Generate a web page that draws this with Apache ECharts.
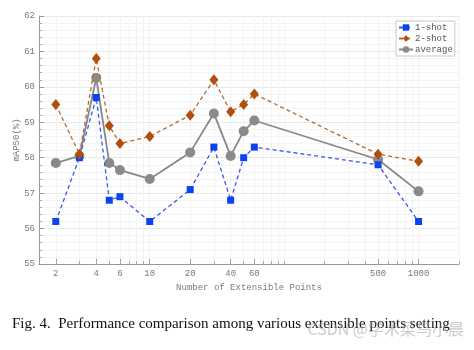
<!DOCTYPE html>
<html>
<head>
<meta charset="utf-8">
<script src="https://cdn.jsdelivr.net/npm/echarts@6/dist/echarts.min.js"></script>
<style>
  html, body { margin: 0; padding: 0; background: #fff; }
  #chart { width: 474px; height: 350px; }
</style>
</head>
<body>
<div id="chart"></div>
<script>
// number of extensible points (x, log axis)
var points = [2, 3, 4, 5, 6, 10, 20, 30, 40, 50, 60, 500, 1000];
var oneShot = [56.2, 58.0, 59.7, 56.8, 56.9, 56.2, 57.1, 58.3, 56.8, 58.0, 58.3, 57.8, 56.2];
var twoShot = [59.5, 58.1, 60.8, 58.9, 58.4, 58.6, 59.2, 60.2, 59.3, 59.5, 59.8, 58.1, 57.9];
var average = [57.85, 58.05, 60.25, 57.85, 57.65, 57.4, 58.15, 59.25, 58.05, 58.75, 59.05, 57.95, 57.05];
var xLabels = [2, 4, 6, 10, 20, 40, 60, 500, 1000];
var xMinor = [2, 3, 4, 5, 6, 7, 8, 9, 10, 20, 30, 40, 50, 60, 70, 80, 90,
              100, 200, 300, 400, 500, 600, 700, 800, 900, 1000, 2000];

function pairs(vals) {
  return points.map(function (p, i) { return [p, vals[i]]; });
}

var mono = 'Liberation Mono';
var grey = '#7a7a7a';

var chart = echarts.init(document.getElementById('chart'));
chart.setOption({
  backgroundColor: '#fff',
  animation: false,
  grid: { left: 39, right: 15, top: 16, bottom: 86, outerBoundsMode: 'none' },
  legend: {
    left: 396, top: 21,
    orient: 'vertical',
    itemWidth: 14, itemHeight: 8, itemGap: 2,
    padding: [2, 2, 2, 2],
    borderColor: '#c8c8c8', borderWidth: 1,
    backgroundColor: '#fff',
    textStyle: { fontFamily: mono, fontSize: 9, color: '#555', padding: [0, 0, 0, -3] },
    data: ['1-shot', '2-shot', 'average']
  },
  xAxis: [{
    type: 'log', logBase: 10, min: 1.5, max: 2000,
    name: 'Number of Extensible Points',
    nameLocation: 'middle', nameGap: 18,
    nameTextStyle: { fontFamily: mono, fontSize: 9, color: grey },
    axisLine: { show: true, lineStyle: { color: '#999' } },
    axisTick: { show: true, inside: true, length: 5, customValues: xLabels, lineStyle: { color: '#999' } },
    axisLabel: {
      customValues: xLabels, fontFamily: mono, fontSize: 9, color: grey, margin: 5,
      formatter: function (v) { return String(Math.round(v)); }
    },
    splitLine: { show: true, lineStyle: { color: '#e8e8e8', width: 1 } }
  }, {
    type: 'log', logBase: 10, min: 1.5, max: 2000,
    position: 'bottom',
    axisLine: { show: false },
    axisTick: { show: true, inside: true, length: 3, customValues: xMinor, lineStyle: { color: '#aaa' } },
    axisLabel: { show: false },
    splitLine: { show: true, lineStyle: { color: '#f3f3f3', width: 1 } }
  }],
  yAxis: {
    type: 'value', min: 55, max: 62, interval: 1,
    name: 'mAP50(%)',
    nameLocation: 'middle', nameGap: 18, nameMoveOverlap: false,
    nameTextStyle: { fontFamily: mono, fontSize: 9, color: grey },
    axisLine: { show: true, lineStyle: { color: '#999' } },
    axisTick: { show: true, inside: true, length: 5, lineStyle: { color: '#999' } },
    minorTick: { show: true, splitNumber: 5, length: 3, lineStyle: { color: '#aaa' } },
    axisLabel: { fontFamily: mono, fontSize: 9, color: grey, margin: 4 },
    splitLine: { show: true, lineStyle: { color: '#e8e8e8' } },
    minorSplitLine: { show: true, lineStyle: { color: '#f4f4f4' } }
  },
  series: [{
    name: '1-shot', type: 'line', data: pairs(oneShot),
    symbol: 'rect', symbolSize: 7,
    itemStyle: { color: '#0b43f2' },
    lineStyle: { color: '#3558ee', width: 1.3, type: [4, 3] },
    z: 3
  }, {
    name: '2-shot', type: 'line', data: pairs(twoShot),
    symbol: 'diamond', symbolSize: [9, 11],
    itemStyle: { color: '#b14f0c' },
    lineStyle: { color: '#b36a30', width: 1.3, type: [4, 3] },
    z: 3
  }, {
    name: 'average', type: 'line', data: pairs(average),
    symbol: 'circle', symbolSize: 10,
    itemStyle: { color: '#8a8a8a' },
    lineStyle: { color: '#888', width: 1.8 },
    z: 2
  }],
  graphic: [{
    type: 'text', left: 12, top: 317,
    style: {
      text: 'Fig. 4.  Performance comparison among various extensible points setting',
      fontFamily: 'Liberation Serif', fontSize: 15, fill: '#111'
    }
  }, {
    type: 'text', right: 10, top: 321,
    style: {
      text: 'CSDN @学术菜鸟小晨',
      fontFamily: 'Noto Sans CJK SC', fontSize: 16, fill: 'rgba(160,160,160,0.55)'
    }
  }]
});
</script>
</body>
</html>
